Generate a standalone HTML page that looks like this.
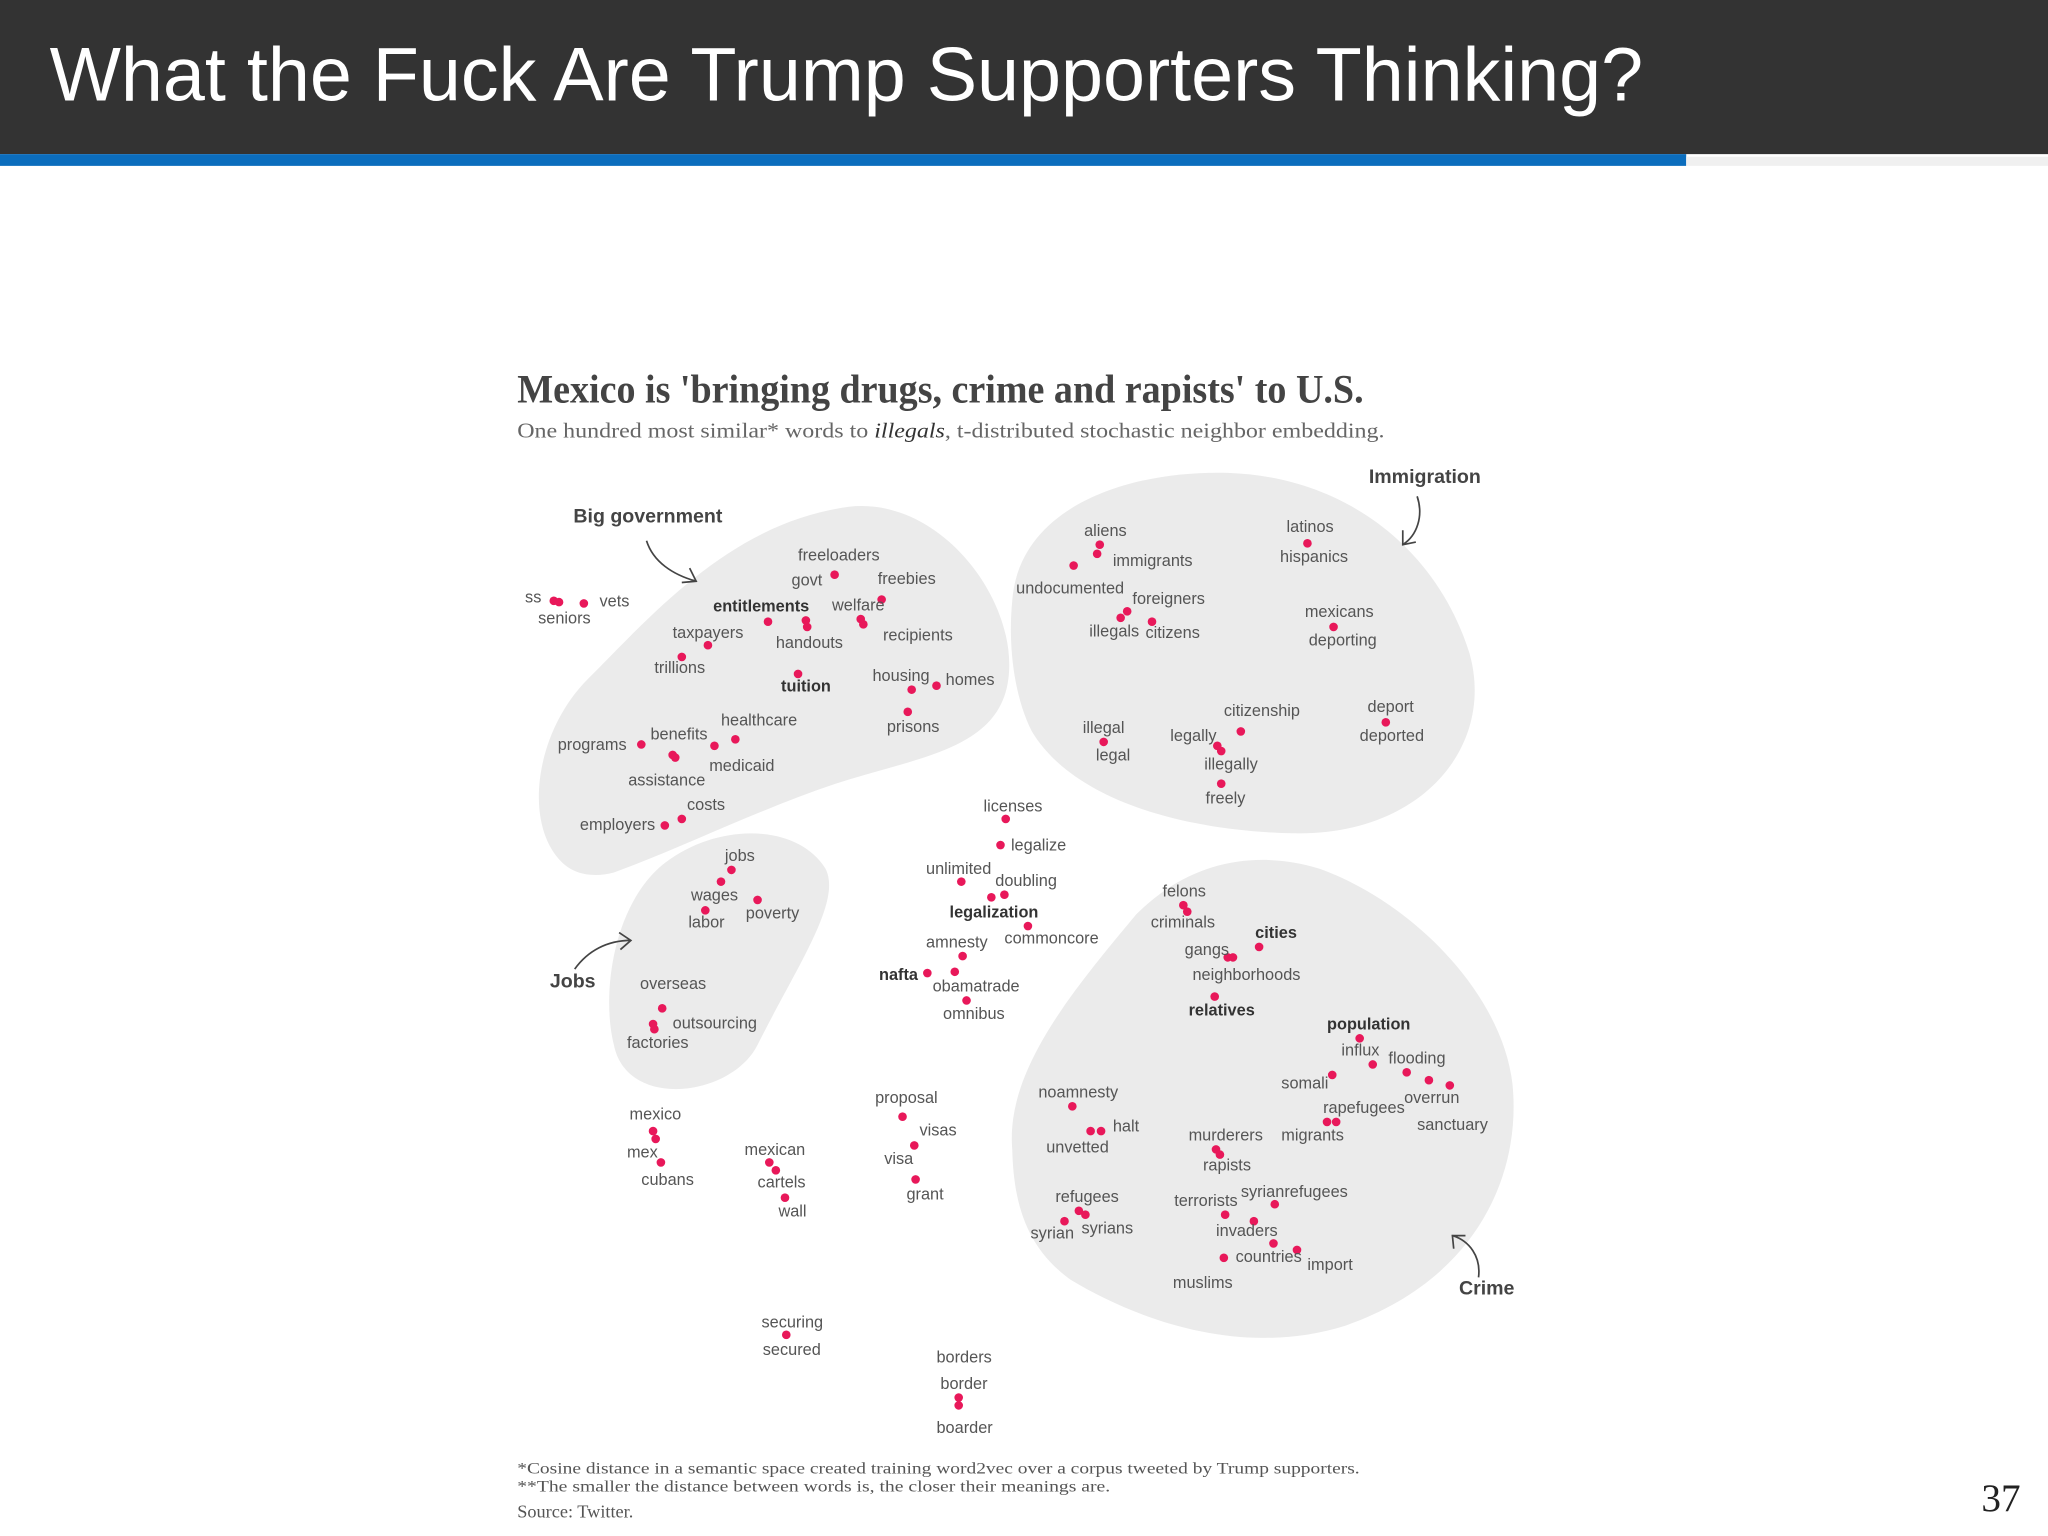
<!DOCTYPE html>
<html><head><meta charset="utf-8"><style>
html,body{margin:0;padding:0;background:#fff;width:2048px;height:1536px;overflow:hidden}
svg{display:block}
.l{font-family:"Liberation Sans",sans-serif;font-size:12.5px;fill:#555;dominant-baseline:middle}
.b{font-weight:bold;fill:#333}
.h{font-family:"Liberation Sans",sans-serif;font-size:15px;font-weight:bold;fill:#444;dominant-baseline:middle}
.s{font-family:"Liberation Serif",serif;fill:#555}
</style></head><body>
<svg width="2048" height="1536" viewBox="0 0 1568 1176" xmlns="http://www.w3.org/2000/svg">
<rect x="0" y="0" width="1568" height="118" fill="#333"/>
<rect x="0" y="118" width="1291" height="9" fill="#0b6dbd"/>
<rect x="1291" y="120" width="277" height="7" fill="#f0f0f0"/>
<text x="38" y="77" font-family="Liberation Sans,sans-serif" font-size="58" fill="#fff" textLength="1220" lengthAdjust="spacingAndGlyphs">What the Fuck Are Trump Supporters Thinking?</text>

<text x="396" y="308" font-family="Liberation Serif,serif" font-weight="bold" font-size="31" fill="#444" textLength="648" lengthAdjust="spacingAndGlyphs">Mexico is 'bringing drugs, crime and rapists' to U.S.</text>
<text x="396" y="335" font-family="Liberation Serif,serif" font-size="16" fill="#666" textLength="664" lengthAdjust="spacingAndGlyphs">One hundred most similar* words to <tspan font-style="italic" fill="#333">illegals</tspan>, t-distributed stochastic neighbor embedding.</text>

<g fill="#ebebeb">
<path d="M430,660 C400,630 410,560 450,520 C500,470 560,400 650,388 C720,380 780,460 772,520 C765,575 700,580 640,600 C580,620 520,650 470,668 C455,672 440,670 430,660 Z"/>
<path d="M775,460 C780,390 860,360 940,362 C1030,365 1100,420 1125,500 C1145,570 1090,640 990,638 C900,636 820,610 790,560 C775,530 772,490 775,460 Z"/>
<path d="M470,800 C460,760 470,690 510,660 C550,630 610,630 632,665 C645,690 610,740 580,800 C560,840 480,850 470,800 Z"/>
<path d="M775,880 C770,820 820,760 870,700 C910,660 960,650 1010,665 C1080,690 1150,760 1158,830 C1165,900 1130,980 1030,1015 C950,1040 870,1010 820,980 C785,955 776,920 775,880 Z"/>
</g>

<g fill="none" stroke="#444" stroke-width="1.3">
<path d="M495,414 C500,430 515,440 533,445"/><path d="M522,446 L533,445 L528,435"/>
<path d="M1085,380 C1090,395 1085,410 1074,417"/><path d="M1074,406 L1074,417 L1084,415"/>
<path d="M440,742 C450,728 465,720 483,720"/><path d="M474,714 L483,720 L475,727"/>
<path d="M1132,978 C1134,962 1125,950 1112,946"/><path d="M1113,956 L1112,946 L1122,946"/>
</g>

<text class="h" x="439" y="396">Big government</text>
<text class="h" x="1048" y="366">Immigration</text>
<text class="h" x="421" y="752">Jobs</text>
<text class="h" x="1117" y="987">Crime</text>

<g fill="#e8185a">
<circle cx="424" cy="460" r="3.3"/><circle cx="428" cy="461" r="3.3"/><circle cx="447" cy="462" r="3.3"/>
<circle cx="639" cy="440" r="3.3"/><circle cx="675" cy="459" r="3.3"/><circle cx="588" cy="476" r="3.3"/><circle cx="617" cy="475" r="3.3"/><circle cx="618" cy="480" r="3.3"/><circle cx="659" cy="474" r="3.3"/><circle cx="661" cy="478" r="3.3"/>
<circle cx="542" cy="494" r="3.3"/><circle cx="522" cy="503" r="3.3"/><circle cx="611" cy="516" r="3.3"/><circle cx="698" cy="528" r="3.3"/><circle cx="717" cy="525" r="3.3"/><circle cx="695" cy="545" r="3.3"/>
<circle cx="491" cy="570" r="3.3"/><circle cx="547" cy="571" r="3.3"/><circle cx="563" cy="566" r="3.3"/><circle cx="515" cy="578" r="3.3"/><circle cx="517" cy="580" r="3.3"/><circle cx="509" cy="632" r="3.3"/><circle cx="522" cy="627" r="3.3"/>
<circle cx="842" cy="417" r="3.3"/><circle cx="840" cy="424" r="3.3"/><circle cx="822" cy="433" r="3.3"/><circle cx="1001" cy="416" r="3.3"/><circle cx="863" cy="468" r="3.3"/><circle cx="858" cy="473" r="3.3"/><circle cx="882" cy="476" r="3.3"/><circle cx="1021" cy="480" r="3.3"/>
<circle cx="1061" cy="553" r="3.3"/><circle cx="845" cy="568" r="3.3"/><circle cx="950" cy="560" r="3.3"/><circle cx="932" cy="571" r="3.3"/><circle cx="935" cy="575" r="3.3"/><circle cx="935" cy="600" r="3.3"/>
<circle cx="770" cy="627" r="3.3"/><circle cx="766" cy="647" r="3.3"/><circle cx="736" cy="675" r="3.3"/><circle cx="759" cy="687" r="3.3"/><circle cx="769" cy="685" r="3.3"/><circle cx="787" cy="709" r="3.3"/><circle cx="737" cy="732" r="3.3"/><circle cx="710" cy="745" r="3.3"/><circle cx="731" cy="744" r="3.3"/><circle cx="740" cy="766" r="3.3"/>
<circle cx="560" cy="666" r="3.3"/><circle cx="552" cy="675" r="3.3"/><circle cx="580" cy="689" r="3.3"/><circle cx="540" cy="697" r="3.3"/><circle cx="507" cy="772" r="3.3"/><circle cx="500" cy="784" r="3.3"/><circle cx="501" cy="788" r="3.3"/>
<circle cx="500" cy="866" r="3.3"/><circle cx="502" cy="872" r="3.3"/><circle cx="506" cy="890" r="3.3"/><circle cx="589" cy="890" r="3.3"/><circle cx="594" cy="896" r="3.3"/><circle cx="601" cy="917" r="3.3"/>
<circle cx="691" cy="855" r="3.3"/><circle cx="700" cy="877" r="3.3"/><circle cx="701" cy="903" r="3.3"/><circle cx="602" cy="1022" r="3.3"/><circle cx="734" cy="1070" r="3.3"/><circle cx="734" cy="1076" r="3.3"/>
<circle cx="906" cy="693" r="3.3"/><circle cx="909" cy="698" r="3.3"/><circle cx="940" cy="733" r="3.3"/><circle cx="944" cy="733" r="3.3"/><circle cx="964" cy="725" r="3.3"/><circle cx="930" cy="763" r="3.3"/>
<circle cx="1041" cy="795" r="3.3"/><circle cx="1051" cy="815" r="3.3"/><circle cx="1077" cy="821" r="3.3"/><circle cx="1094" cy="827" r="3.3"/><circle cx="1110" cy="831" r="3.3"/><circle cx="1020" cy="823" r="3.3"/><circle cx="1016" cy="859" r="3.3"/><circle cx="1023" cy="859" r="3.3"/>
<circle cx="821" cy="847" r="3.3"/><circle cx="835" cy="866" r="3.3"/><circle cx="843" cy="866" r="3.3"/><circle cx="931" cy="880" r="3.3"/><circle cx="934" cy="884" r="3.3"/>
<circle cx="976" cy="922" r="3.3"/><circle cx="938" cy="930" r="3.3"/><circle cx="826" cy="927" r="3.3"/><circle cx="831" cy="930" r="3.3"/><circle cx="815" cy="935" r="3.3"/><circle cx="960" cy="935" r="3.3"/><circle cx="975" cy="952" r="3.3"/><circle cx="993" cy="957" r="3.3"/><circle cx="937" cy="963" r="3.3"/>
</g>

<g class="l">
<text class="l" x="402" y="458">ss</text><text class="l" x="412" y="474">seniors</text><text class="l" x="459" y="461">vets</text>
<text class="l" x="611" y="426">freeloaders</text><text class="l" x="606" y="445">govt</text><text class="l" x="672" y="444">freebies</text>
<text class="l b" x="546" y="465">entitlements</text><text class="l" x="637" y="464">welfare</text>
<text class="l" x="515" y="485">taxpayers</text><text class="l" x="594" y="493">handouts</text><text class="l" x="676" y="487">recipients</text>
<text class="l" x="501" y="512">trillions</text><text class="l b" x="598" y="526">tuition</text><text class="l" x="668" y="518">housing</text><text class="l" x="724" y="521">homes</text>
<text class="l" x="679" y="557">prisons</text><text class="l" x="552" y="552">healthcare</text><text class="l" x="498" y="563">benefits</text><text class="l" x="427" y="571">programs</text>
<text class="l" x="543" y="587">medicaid</text><text class="l" x="481" y="598">assistance</text><text class="l" x="526" y="617">costs</text><text class="l" x="444" y="632">employers</text>
<text class="l" x="830" y="407">aliens</text><text class="l" x="852" y="430">immigrants</text><text class="l" x="985" y="404">latinos</text><text class="l" x="980" y="427">hispanics</text>
<text class="l" x="778" y="451">undocumented</text><text class="l" x="867" y="459">foreigners</text><text class="l" x="834" y="484">illegals</text><text class="l" x="877" y="485">citizens</text>
<text class="l" x="999" y="469">mexicans</text><text class="l" x="1002" y="491">deporting</text><text class="l" x="937" y="545">citizenship</text><text class="l" x="1047" y="542">deport</text><text class="l" x="1041" y="564">deported</text>
<text class="l" x="829" y="558">illegal</text><text class="l" x="839" y="579">legal</text><text class="l" x="896" y="564">legally</text><text class="l" x="922" y="586">illegally</text><text class="l" x="923" y="612">freely</text>
<text class="l" x="753" y="618">licenses</text><text class="l" x="774" y="648">legalize</text><text class="l" x="709" y="666">unlimited</text><text class="l" x="762" y="675">doubling</text>
<text class="l b" x="727" y="699">legalization</text><text class="l" x="769" y="719">commoncore</text><text class="l" x="709" y="722">amnesty</text><text class="l b" x="673" y="747">nafta</text>
<text class="l" x="714" y="756">obamatrade</text><text class="l" x="722" y="777">omnibus</text>
<text class="l" x="555" y="656">jobs</text><text class="l" x="529" y="686">wages</text><text class="l" x="571" y="700">poverty</text><text class="l" x="527" y="707">labor</text>
<text class="l" x="490" y="754">overseas</text><text class="l" x="515" y="784">outsourcing</text><text class="l" x="480" y="799">factories</text>
<text class="l" x="482" y="854">mexico</text><text class="l" x="480" y="883">mex</text><text class="l" x="491" y="904">cubans</text>
<text class="l" x="570" y="881">mexican</text><text class="l" x="580" y="906">cartels</text><text class="l" x="596" y="928">wall</text>
<text class="l" x="670" y="841">proposal</text><text class="l" x="704" y="866">visas</text><text class="l" x="677" y="888">visa</text><text class="l" x="694" y="915">grant</text>
<text class="l" x="583" y="1013">securing</text><text class="l" x="584" y="1034">secured</text><text class="l" x="717" y="1040">borders</text><text class="l" x="720" y="1060">border</text><text class="l" x="717" y="1094">boarder</text>
<text class="l" x="890" y="683">felons</text><text class="l" x="881" y="707">criminals</text><text class="l b" x="961" y="715">cities</text><text class="l" x="907" y="728">gangs</text>
<text class="l" x="913" y="747">neighborhoods</text><text class="l b" x="910" y="774">relatives</text><text class="l b" x="1016" y="785">population</text>
<text class="l" x="1027" y="805">influx</text><text class="l" x="1063" y="811">flooding</text><text class="l" x="981" y="830">somali</text><text class="l" x="1075" y="841">overrun</text>
<text class="l" x="1013" y="849">rapefugees</text><text class="l" x="1085" y="862">sanctuary</text><text class="l" x="981" y="870">migrants</text>
<text class="l" x="795" y="837">noamnesty</text><text class="l" x="852" y="863">halt</text><text class="l" x="801" y="879">unvetted</text><text class="l" x="910" y="870">murderers</text><text class="l" x="921" y="893">rapists</text>
<text class="l" x="808" y="917">refugees</text><text class="l" x="950" y="913">syrianrefugees</text><text class="l" x="899" y="920">terrorists</text>
<text class="l" x="789" y="945">syrian</text><text class="l" x="828" y="941">syrians</text><text class="l" x="931" y="943">invaders</text><text class="l" x="946" y="963">countries</text><text class="l" x="1001" y="969">import</text><text class="l" x="898" y="983">muslims</text>
</g>

<text class="s" x="396" y="1128" font-size="12" textLength="645" lengthAdjust="spacingAndGlyphs">*Cosine distance in a semantic space created training word2vec over a corpus tweeted by Trump supporters.</text>
<text class="s" x="396" y="1142" font-size="12" textLength="454" lengthAdjust="spacingAndGlyphs">**The smaller the distance between words is, the closer their meanings are.</text>
<text class="s" x="396" y="1162" font-size="14">Source: Twitter.</text>
<text x="1517" y="1157" font-family="Liberation Serif,serif" font-size="30" fill="#222">37</text>
</svg>
</body></html>
